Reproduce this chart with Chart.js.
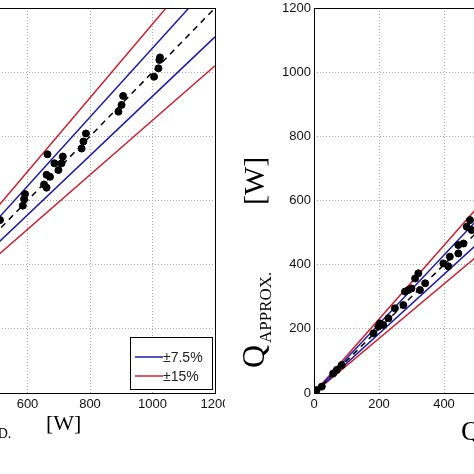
<!DOCTYPE html>
<html><head><meta charset="utf-8">
<script src="https://cdn.jsdelivr.net/npm/chart.js@4"></script>
<style>html,body{margin:0;padding:0;background:#fff;overflow:hidden;width:474px;height:474px;position:relative}
canvas{position:absolute;top:0}</style></head><body>
<div id="a" style="position:absolute;left:-220px;top:0;width:445px;height:474px"><canvas id="c1"></canvas></div>
<div id="b" style="position:absolute;left:240px;top:0;width:500px;height:474px"><canvas id="c2"></canvas></div>
<script>
const ticks = [0,200,400,600,800,1000,1200];
const leftX = [512,585,589,592,653,661,664,672,661,686,699,709,713,773,779,787,891,901,906,1005,1019,1024,1022];
const leftY = [539,584,605,620,650,640,744,674,680,716,695,716,737,762,784,809,877,898,926,986,1012,1046,1038];
const rightX = [8,24,59,70,85,183,198,203,213,229,249,275,280,290,300,311,321,326,342,398,413,418,444,444,460,470,480,485];
const rightY = [9,20,61,72,87,186,207,217,212,233,264,274,316,321,326,357,373,321,342,404,395,425,435,461,466,518,539,508];
const bands = [1, 1.075, 0.925, 1.15, 0.85];
const RED = '#cc2233', BLUE = '#1c1ca8';

function lineDs(k, color, dash){
  return {type:'line', data:[{x:0,y:0},{x:1200,y:1200*k}], borderColor:color, borderWidth:1.5,
    borderDash:dash||[], pointRadius:0, fill:false, order:2};
}
function makeChart(id, xs, ys, yAxisW, padRight, extra){
  const pts = xs.map((x,i)=>({x:x,y:ys[i]}));
  return new Chart(document.getElementById(id), {
    type:'scatter',
    data:{datasets:[
      lineDs(bands[0],'#000',[6,5]),
      lineDs(bands[1],BLUE), lineDs(bands[2],BLUE),
      lineDs(bands[3],RED), lineDs(bands[4],RED),
      {data:pts, backgroundColor:'#000', borderColor:'#000', pointRadius:3.5, order:1}
    ]},
    options:{responsive:true, maintainAspectRatio:false, animation:false,
      layout:{padding:{top:8,right:padRight,left:0,bottom:0}},
      plugins:{legend:{display:false}, tooltip:{enabled:false}},
      scales:{
        x:{type:'linear',min:0,max:1200,afterBuildTicks:s=>{s.ticks=ticks.map(v=>({value:v}))},
          afterFit:s=>{s.height=81; s.paddingLeft=0; s.paddingRight=0},
          grid:{color:'#aaa',drawTicks:false},
          border:{display:false,dash:[1,2]},
          ticks:{color:'#111',font:{family:'Liberation Sans',size:13},padding:4,maxRotation:0,callback:v=>String(v)}},
        y:{type:'linear',min:0,max:1200,afterBuildTicks:s=>{s.ticks=ticks.map(v=>({value:v}))},
          afterFit:s=>{s.width=yAxisW; s.paddingTop=0; s.paddingBottom=0},
          grid:{color:'#aaa',drawTicks:false},
          border:{display:false,dash:[1,2]},
          ticks:{color:'#111',font:{family:'Liberation Sans',size:13},padding:3,callback:v=>String(v)}}
      }},
    plugins:[{id:'frame',afterDraw(c){
      const a=c.chartArea, g=c.ctx; g.save(); g.strokeStyle='#000'; g.lineWidth=1;
      g.strokeRect(a.left+0.5,a.top+0.5,a.right-a.left,a.bottom-a.top); g.restore(); extra(c);}}]
  });
}
makeChart('c1', leftX, leftY, 60, 10, c=>{
  const g=c.ctx; g.save();
  const ox=220; g.fillStyle='#fff'; g.strokeStyle='#000'; g.lineWidth=1;
  g.fillRect(ox+130,337,82,52); g.strokeRect(ox+130.5,337.5,82,52);
  g.lineWidth=1.5; g.strokeStyle=BLUE; g.beginPath(); g.moveTo(ox+135,357); g.lineTo(ox+163,357); g.stroke();
  g.strokeStyle=RED; g.beginPath(); g.moveTo(ox+135,376); g.lineTo(ox+163,376); g.stroke();
  g.fillStyle='#222'; g.font='14px Liberation Sans'; g.textBaseline='middle';
  g.fillText('±7.5%',ox+163,358); g.fillText('±15%',ox+163,377);
  g.textBaseline='alphabetic'; g.fillStyle='#000';
  g.font='24px Liberation Serif'; g.textAlign='right'; g.fillText('Q',ox-18,433);
  g.font='14px Liberation Serif'; g.textAlign='left'; g.fillText('T.-D.',ox-18,438);
  g.font='22px Liberation Serif'; g.fillText('[W]',ox+46,430);
  g.restore();
});
makeChart('c2', rightX, rightY, 74, 36, c=>{
  const g=c.ctx; g.save(); g.fillStyle='#000';
  g.translate(24,368); g.rotate(-Math.PI/2);
  g.font='32px Liberation Serif'; g.fillText('Q',0,0);
  g.font='17px Liberation Serif'; g.fillText('APPROX.',25,7);
  g.font='30px Liberation Serif'; g.fillText('[W]',163,0);
  g.restore(); g.save();
  g.font='28px Liberation Serif'; g.fillStyle='#000'; g.fillText('Q',221,440);
  g.restore();
});
</script></body></html>
